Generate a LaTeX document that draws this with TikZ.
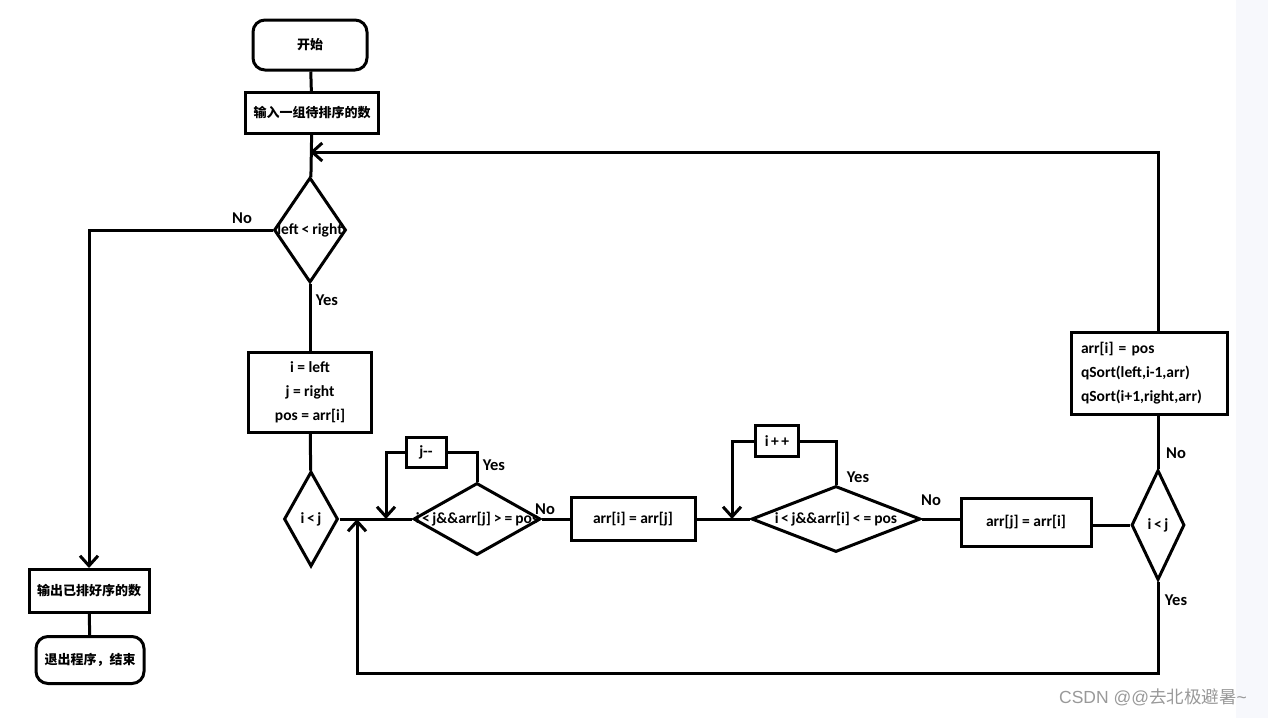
\documentclass[tikz,border=0pt]{standalone}
\usepackage{fontspec}
\setmainfont{Carlito}
\newfontfamily\cjk{Noto Sans CJK SC}
\newfontfamily\wmfont{Liberation Sans}
\usetikzlibrary{shapes.geometric,arrows.meta}
\newcommand{\dtext}[1]{\makebox[0pt]{#1}}
\newcommand{\gapsym}{\hspace{3pt}}

\begin{document}
\begin{tikzpicture}[x=1pt,y=-1pt,line width=3pt,>={Straight Barb[length=10pt,width=18pt]}]
\tikzstyle{every node}=[inner sep=0pt, font=\fontsize{15.5}{18}\selectfont\bfseries]
\tikzstyle{term}=[draw, rounded corners=12pt]
\tikzstyle{proc}=[draw, rectangle]
\tikzstyle{cond}=[draw, diamond]
\tikzstyle{cn}=[font=\fontsize{13}{16}\selectfont\bfseries\cjk]
\tikzstyle{tag}=[font=\fontsize{16.5}{18}\selectfont\bfseries]
\useasboundingbox (0,0) rectangle (1268,718);
\fill[fill={rgb,255:red,247;green,248;blue,252}] (1236,0) rectangle (1268,718);
% main column
\draw (310,45) node (start) [term,cn,minimum width=114pt,minimum height=50pt] {开始};
\draw (312,113) node (in) [proc,cn,minimum width=133pt,minimum height=41pt] {输入一组待排序的数};
\draw (310,230) node (lr) [cond,minimum width=72pt,minimum height=105pt] {\dtext{left\gapsym<\gapsym right}};
\draw (310,392) node (init) [proc,minimum width=123pt,minimum height=80pt,align=center,font=\fontsize{15.5}{24}\selectfont\bfseries] {i = left\\j = right\\pos = arr[i]};
\draw (311,519) node (c1) [cond,minimum width=54pt,minimum height=95pt] {\dtext{i\,<\,j}};
% inner loops
\draw (477,519) node (c2) [cond,minimum width=127pt,minimum height=72pt] {\dtext{i\,<\,j\&\&arr[j]\gapsym>\gapsym=\gapsym pos}};
\draw (426,452) node (dec) [proc,minimum width=40pt,minimum height=30pt] {j{-}{-}};
\draw (633,519) node (b1) [proc,minimum width=124pt,minimum height=43pt] {arr[i] = arr[j]};
\draw (836,519) node (c3) [cond,minimum width=169pt,minimum height=66pt] {\dtext{i\,<\,j\&\&arr[i]\gapsym<\gapsym=\gapsym pos}};
\draw (777,441) node (inc) [proc,minimum width=43pt,minimum height=31pt] {i\,+\,+};
\draw (1026,522) node (b2) [proc,minimum width=130pt,minimum height=48pt] {arr[j] = arr[i]};
\draw (1158,525) node (c4) [cond,minimum width=53pt,minimum height=110pt] {\dtext{i\,<\,j}};
\draw (1149,373) node (b3) [proc,minimum width=156pt,minimum height=82pt,text width=136pt,align=left,font=\fontsize{15.5}{24}\selectfont\bfseries] {arr[i] = pos\\qSort(left,i-1,arr)\\qSort(i+1,right,arr)};
% exit
\draw (89,591) node (out) [proc,cn,minimum width=120pt,minimum height=43pt] {输出已排好序的数};
\draw (90,660) node (end) [term,cn,minimum width=108pt,minimum height=47pt] {退出程序，结束};
% labels
\draw (242,218) node (noA) [tag] {No};
\draw (327,300) node (yesA) [tag] {Yes};
\draw (494,465) node (yesB) [tag] {Yes};
\draw (545,509) node (noB) [tag] {No};
\draw (858,477) node (yesC) [tag] {Yes};
\draw (931,500) node (noC) [tag] {No};
\draw (1176,453) node (noD) [tag] {No};
\draw (1176,600) node (yesD) [tag] {Yes};
\draw (1153,697) node (mark) [font=\fontsize{17.5}{20}\selectfont\wmfont, text=black!40] {CSDN @@{\cjk 去北极避暑}\textasciitilde};
\coordinate (top) at (310,152);
\coordinate (m1) at (357,519);
\coordinate (m2) at (386,519);
\coordinate (m3) at (732,519);
\coordinate (bot) at (357,673);
\draw (start) -- (in);
\draw (in) -- (lr);
\draw (lr) -- (init);
\draw (init) -- (c1);
\draw[->] (lr.west) -| (out.north);
\draw (out) -- (end);
\draw (c1.east) -- (c2.west);
\draw (c2.north) |- (dec.east);
\draw[->] (dec.west) -| (m2);
\draw (c2.east) -- (b1.west);
\draw (b1.east) -- (c3.west);
\draw (c3.north) |- (inc.east);
\draw[->] (inc.west) -| (m3);
\draw (c3.east) -- (c3.east -| b2.west);
\draw (b2.east |- c4.west) -- (c4.west);
\draw (c4.north) -- (c4.north |- b3.south);
\draw[->] (c4.north |- b3.north) |- (top);
\draw[->] (c4.south) |- (bot) -- (m1);
\end{tikzpicture}
\end{document}
